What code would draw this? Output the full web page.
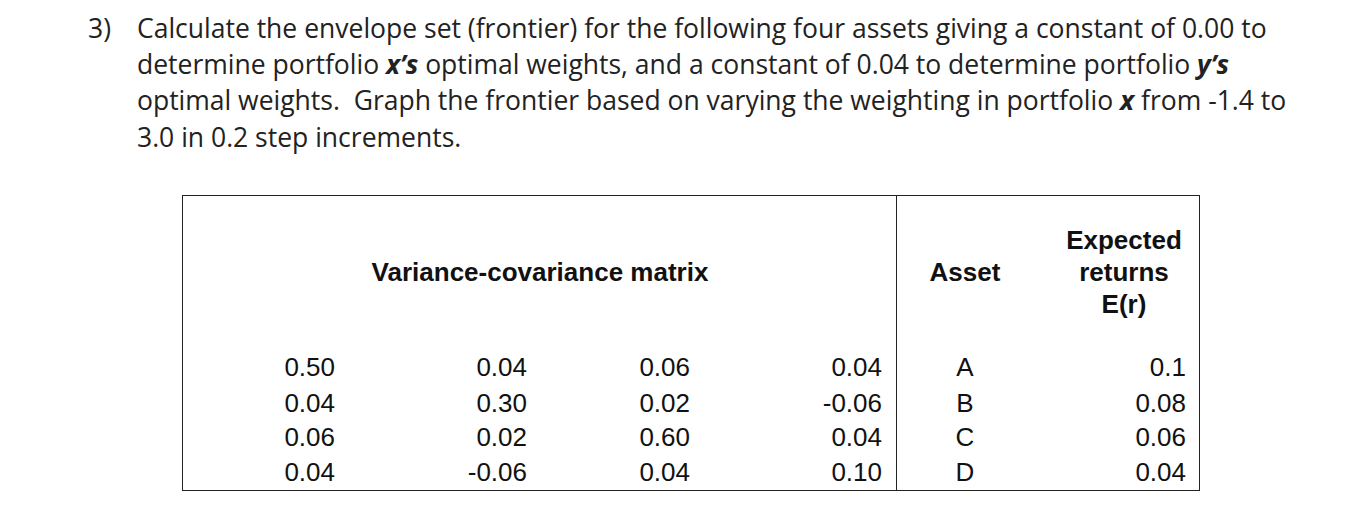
<!DOCTYPE html>
<html>
<head>
<meta charset="utf-8">
<script src="https://cdn.jsdelivr.net/npm/chart.js"></script>
<style>
  body { margin: 0; background: #fff; width: 1350px; height: 530px; position: relative; overflow: hidden; }
  .q { position: absolute; font-family: "Open Sans", sans-serif; font-size: 26.5px; color: #222; white-space: nowrap; line-height: 30px; }
  .t { position: absolute; font-family: "Liberation Sans", Arial, sans-serif; font-size: 26px; color: #111; white-space: nowrap; line-height: 30px; }
  .b { font-weight: bold; }
  #box { position: absolute; left: 182px; top: 195px; width: 1016px; height: 294px; border: 1.5px solid #222; }
  #div { position: absolute; left: 896px; top: 195px; width: 0; height: 296px; border-left: 1.5px solid #222; }
</style>
</head>
<body>
<div class="q" style="left:88px;top:13px">3)</div>
<div class="q" style="left:137px;top:13px">Calculate the envelope set (frontier) for the following four assets giving a constant of 0.00 to</div>
<div class="q" style="left:137px;top:49px">determine portfolio <b><i>x’s</i></b> optimal weights, and a constant of 0.04 to determine portfolio <b><i>y’s</i></b></div>
<div class="q" style="left:137px;top:85px">optimal weights.&nbsp; Graph the frontier based on varying the weighting in portfolio <b><i>x</i></b> from -1.4 to</div>
<div class="q" style="left:137px;top:122px">3.0 in 0.2 step increments.</div>
<div id="box"></div>
<div id="div"></div>
<div id="cells"></div>
<script>
// covariance matrix rows, asset names and expected returns
let assets = ['A', 'B', 'C', 'D'];
let covRowA = ['0.50', '0.04', '0.06', '0.04'];
let covRowB = ['0.04', '0.30', '0.02', '-0.06'];
let covRowC = ['0.06', '0.02', '0.60', '0.04'];
let covRowD = ['0.04', '-0.06', '0.04', '0.10'];
let expReturns = ['0.1', '0.08', '0.06', '0.04'];

let rows = [covRowA, covRowB, covRowC, covRowD];
let colRight = [335, 527, 690, 882];
let rowTop = [352, 388, 422, 457];
let cells = document.getElementById('cells');

function put(text, x, y, align, bold) {
    let d = document.createElement('div');
    d.className = 't' + (bold ? ' b' : '');
    d.innerHTML = text;
    d.style.top = y + 'px';
    if (align == 'right') d.style.right = (1350 - x) + 'px';
    else if (align == 'center') { d.style.left = (x - 200) + 'px'; d.style.width = '400px'; d.style.textAlign = 'center'; }
    else d.style.left = x + 'px';
    cells.appendChild(d);
}

put('Variance-covariance matrix', 540, 257, 'center', true);
put('Asset', 965, 257, 'center', true);
put('Expected', 1124, 225, 'center', true);
put('returns', 1124, 257, 'center', true);
put('E(r)', 1124, 289, 'center', true);

rows.forEach((r, i) => {
    r.forEach((v, j) => put(v, colRight[j], rowTop[i], 'right'));
    put(assets[i], 965, rowTop[i], 'center');
    put(expReturns[i], 1186, rowTop[i], 'right');
});
</script>
</body>
</html>
